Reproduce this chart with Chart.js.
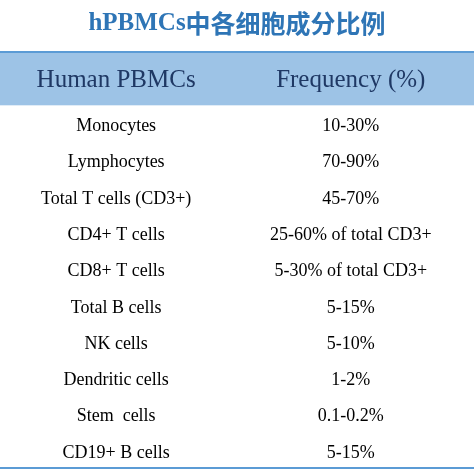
<!DOCTYPE html><html><head><meta charset="utf-8">
<script src="https://cdn.jsdelivr.net/npm/chart.js@4"></script>
<style>html,body{margin:0;background:#fff}#w{width:474px;height:475px}</style></head><body><div id="w"><canvas id="c"></canvas></div>
<script>
const titleLatin = "hPBMCs";
const titleCJK = "中各细胞成分比例";
const headers = ["Human PBMCs", "Frequency (%)"];
const cellTypes = ["Monocytes","Lymphocytes","Total T cells (CD3+)","CD4+ T cells","CD8+ T cells","Total B cells","NK cells","Dendritic cells","Stem  cells","CD19+ B cells"];
const frequencies = ["10-30%","70-90%","45-70%","25-60% of total CD3+","5-30% of total CD3+","5-15%","5-10%","1-2%","0.1-0.2%","5-15%"];
const colX = [0.49, 1.48];
const HEAD = -1.47;
const tablePlugin = {
  id:'table',
  afterDraw(ch){
    const c=ch.ctx, x=ch.scales.x, y=ch.scales.y;
    const L=x.getPixelForValue(0), R=x.getPixelForValue(2);
    c.save();
    c.fillStyle='#9dc3e6';
    c.fillRect(L,y.getPixelForValue(HEAD),R-L,y.getPixelForValue(0)-y.getPixelForValue(HEAD));
    c.fillStyle='#5b9bd5';
    c.fillRect(L,y.getPixelForValue(HEAD)-1,R-L,2);
    c.fillRect(L,y.getPixelForValue(10)-1,R-L,2);
    c.textAlign='center';c.textBaseline='middle';
    c.fillStyle='#1f3864';c.font='25px "Liberation Serif"';
    headers.forEach((h,j)=>c.fillText(h,x.getPixelForValue(colX[j]),y.getPixelForValue(HEAD/2)+2));
    c.fillStyle='#000';c.font='18px "Liberation Serif"';
    cellTypes.forEach((t,i)=>{
      c.fillText(t,x.getPixelForValue(colX[0]),y.getPixelForValue(i+0.5)+3);
      c.fillText(frequencies[i],x.getPixelForValue(colX[1]),y.getPixelForValue(i+0.5)+3);
    });
    c.fillStyle='#2e75b6';
    c.font='bold 25px "Liberation Serif"';const w1=c.measureText(titleLatin).width;
    c.font='bold 25px "Noto Sans CJK SC"';const w2=c.measureText(titleCJK).width;
    const sx=237-(w1+w2)/2;c.textAlign='left';
    c.font='bold 25px "Liberation Serif"';c.fillText(titleLatin,sx,24);
    c.font='bold 25px "Noto Sans CJK SC"';c.fillText(titleCJK,sx+w1,23);
    c.restore();
  }
};
new Chart(document.getElementById('c'),{
  type:'scatter',
  data:{datasets:[{data:cellTypes.map((t,i)=>({x:colX[0],y:i+0.5})),pointRadius:0}]},
  options:{responsive:true,maintainAspectRatio:false,animation:false,
    layout:{padding:{top:52,bottom:7,left:0,right:0}},
    plugins:{legend:{display:false},tooltip:{enabled:false}},
    scales:{x:{display:false,min:0,max:2},y:{display:false,min:HEAD,max:10,reverse:true}}},
  plugins:[tablePlugin]
});
</script></body></html>
